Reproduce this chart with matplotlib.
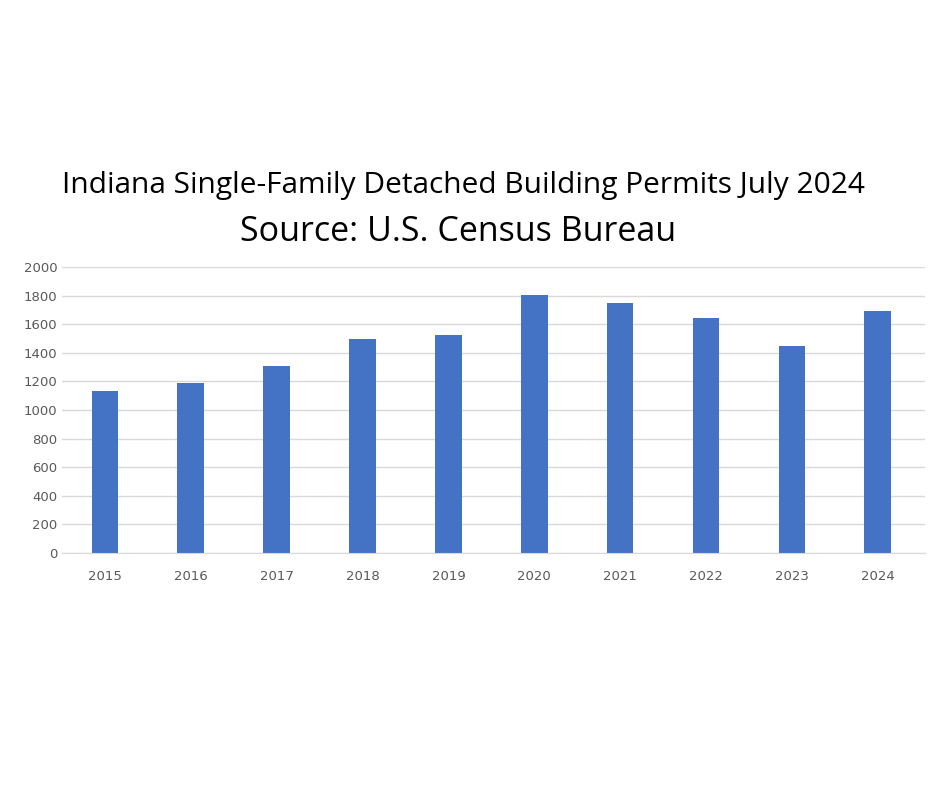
import matplotlib.pyplot as plt

years = ['2015', '2016', '2017', '2018', '2019', '2020', '2021', '2022', '2023', '2024']
permits = [1130, 1190, 1305, 1495, 1525, 1805, 1750, 1645, 1450, 1690]
yticks = list(range(0, 2001, 200))

fig = plt.figure(figsize=(9.4, 7.88), dpi=100)
ax = fig.add_axes([62/940, 1-553/788, 863/940, (553-267)/788])

ax.bar(years, permits, width=0.31, color='#4472C4', zorder=2)
ax.set_ylim(0, 2000)
ax.set_yticks(yticks)
ax.grid(axis='y', color='#d9d9d9', linewidth=1, zorder=0)
for s in ['top', 'right', 'left']:
    ax.spines[s].set_visible(False)
ax.spines['bottom'].set_color('#d9d9d9')
ax.tick_params(length=0, labelsize=9.5, colors='#595959')
ax.tick_params(axis='x', pad=12)
ax.set_xlim(-0.5, 9.55)

fig.text(463/940, 1-186/788, 'Indiana Single-Family Detached Building Permits July 2024',
         ha='center', va='center', fontsize=21.5, family='Open Sans')
fig.text(458/940, 1-232/788, 'Source: U.S. Census Bureau',
         ha='center', va='center', fontsize=24.5, family='Open Sans')

fig.savefig('out.png', dpi=100, facecolor='white')
